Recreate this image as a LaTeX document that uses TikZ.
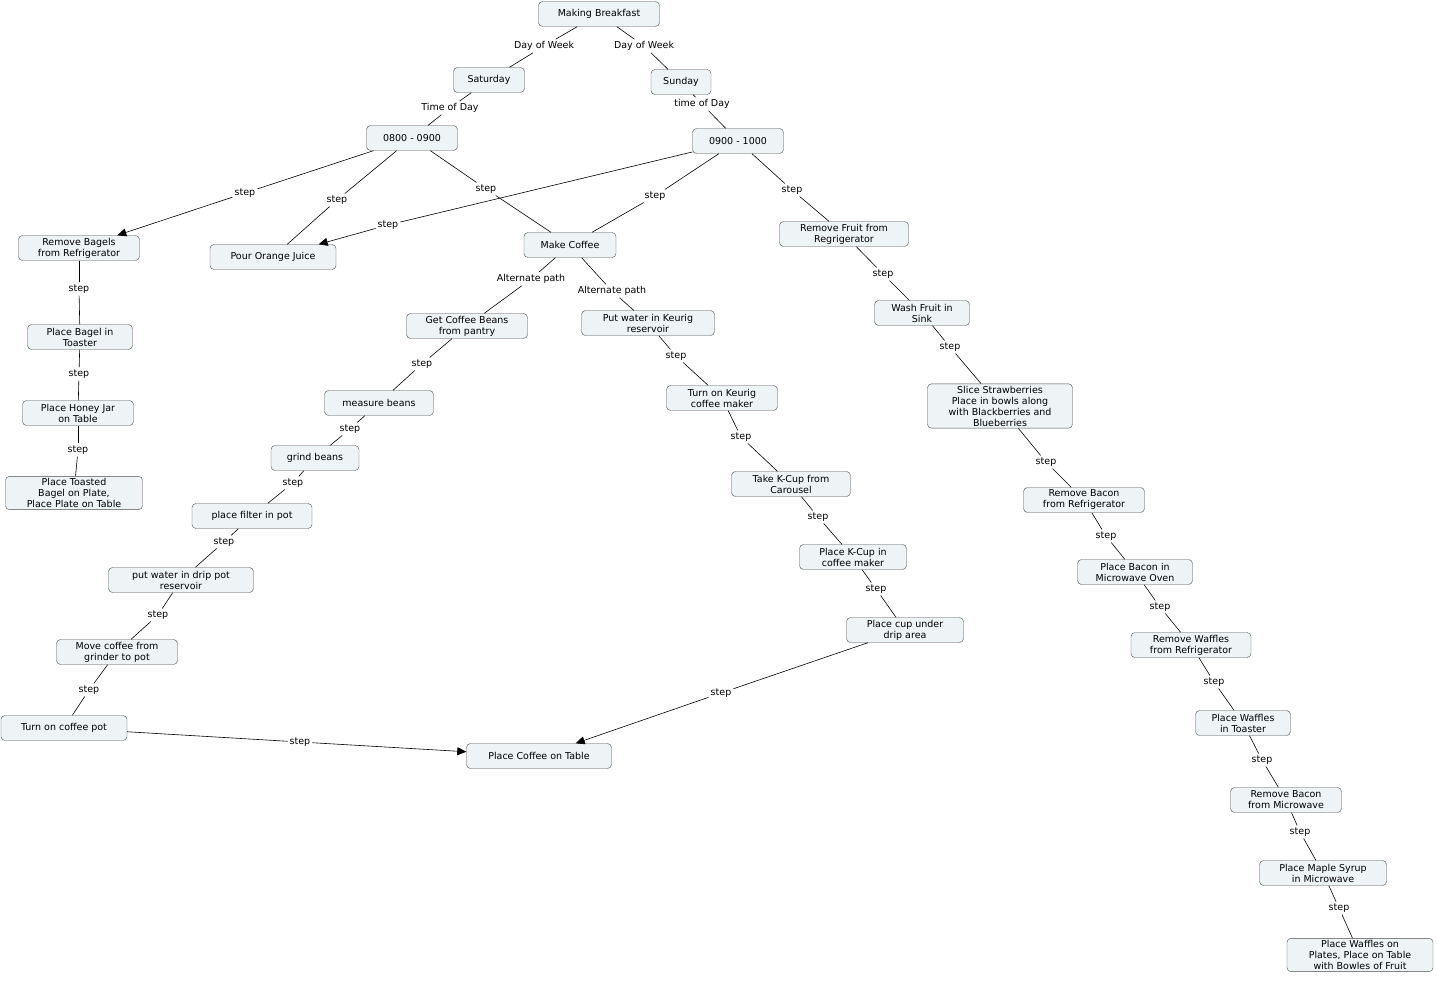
\documentclass[tikz,border=0pt]{standalone}
\usepackage{fontspec}
\setmainfont{DejaVu Sans}
\usetikzlibrary{arrows.meta}
\newcommand\mylink[3]{\draw[ln] (#1) -- (#2); \draw[ln] (#2) -- (#3);}
\newcommand\myarrow[3]{\draw[ln] (#1) -- (#2); \draw[ln,-{Triangle[length=9pt,width=8pt]}] (#2) -- (#3);}
\begin{document}
\begin{tikzpicture}[x=1pt,y=-1pt,
  box/.style={draw=black!70,fill={rgb,255:red,238;green,243;blue,245},rounded corners=4pt,align=center,font=\fontsize{9.5}{11}\selectfont,inner sep=2pt,minimum height=25pt},
  lab/.style={font=\fontsize{9.5}{11}\selectfont,inner sep=2pt},
  ln/.style={draw=black,line width=0.6pt}]
\useasboundingbox (0,0) rectangle (1437,984);
\node[box,minimum width=121] (MB) at (599,14) {Making Breakfast};
\node[box,minimum width=71] (Sat) at (489,80) {Saturday};
\node[box,minimum width=60] (Sun) at (681,82) {Sunday};
\node[box,minimum width=91] (T1) at (412,138) {0800 - 0900};
\node[box,minimum width=91] (T2) at (738,141) {0900 - 1000};
\node[box,minimum width=121] (RB) at (79,248) {Remove Bagels\\from Refrigerator};
\node[box,minimum width=126] (OJ) at (273,257) {Pour Orange Juice};
\node[box,minimum width=92] (MC) at (570,245) {Make Coffee};
\node[box,minimum width=129] (RF) at (844,234) {Remove Fruit from\\Regrigerator};
\node[box,minimum width=105] (PB) at (80,337) {Place Bagel in\\Toaster};
\node[box,minimum width=111] (HJ) at (78,413) {Place Honey Jar\\on Table};
\node[box,minimum width=137] (PT) at (74,493) {Place Toasted\\Bagel on Plate,\\Place Plate on Table};
\node[box,minimum width=121] (GB) at (467,326) {Get Coffee Beans\\from pantry};
\node[box,minimum width=133] (PW) at (648,323) {Put water in Keurig\\reservoir};
\node[box,minimum width=95] (WF) at (922,313) {Wash Fruit in\\Sink};
\node[box,minimum width=109] (MBn) at (379,403) {measure beans};
\node[box,minimum width=111] (TK) at (722,398) {Turn on Keurig\\coffee maker};
\node[box,minimum width=145] (SS) at (1000,406) {Slice Strawberries\\Place in bowls along\\with Blackberries and\\Blueberries};
\node[box,minimum width=88] (GBn) at (315,458) {grind beans};
\node[box,minimum width=119] (KC) at (791,484) {Take K-Cup from\\Carousel};
\node[box,minimum width=121] (RBa) at (1084,500) {Remove Bacon\\from Refrigerator};
\node[box,minimum width=120] (PF) at (252,516) {place filter in pot};
\node[box,minimum width=107] (PK) at (853,557) {Place K-Cup in\\coffee maker};
\node[box,minimum width=115] (PBM) at (1135,572) {Place Bacon in\\Microwave Oven};
\node[box,minimum width=145] (PWD) at (181,580) {put water in drip pot\\reservoir};
\node[box,minimum width=117] (PC) at (905,630) {Place cup under\\drip area};
\node[box,minimum width=120] (RW) at (1191,645) {Remove Waffles\\from Refrigerator};
\node[box,minimum width=121] (MV) at (117,652) {Move coffee from\\grinder to pot};
\node[box,minimum width=95] (PWT) at (1243,723) {Place Waffles\\in Toaster};
\node[box,minimum width=126] (TP) at (64,728) {Turn on coffee pot};
\node[box,minimum width=145] (PCT) at (539,756) {Place Coffee on Table};
\node[box,minimum width=111] (RBM) at (1286,800) {Remove Bacon\\from Microwave};
\node[box,minimum width=127] (MS) at (1323,873) {Place Maple Syrup\\in Microwave};
\node[box,minimum width=146] (PWP) at (1360,955) {Place Waffles on\\Plates, Place on Table\\with Bowles of Fruit};
% labels
\node[lab] (l1) at (544,46) {Day of Week};
\node[lab] (l2) at (644,46) {Day of Week};
\node[lab] (l3) at (450,108) {Time of Day};
\node[lab] (l4) at (702,104) {time of Day};
\node[lab] (l5) at (245,193) {step};
\node[lab] (l6) at (337,200) {step};
\node[lab] (l7) at (486,189) {step};
\node[lab] (l8) at (388,225) {step};
\node[lab] (l9) at (655,196) {step};
\node[lab] (l10) at (792,190) {step};
\node[lab] (l11) at (531,279) {Alternate path};
\node[lab] (l12) at (612,291) {Alternate path};
\node[lab] (s1) at (79,289) {step};
\node[lab] (s2) at (79,374) {step};
\node[lab] (s3) at (78,450) {step};
\node[lab] (c1) at (422,364) {step};
\node[lab] (c2) at (350,429) {step};
\node[lab] (c3) at (293,483) {step};
\node[lab] (c4) at (224,542) {step};
\node[lab] (c5) at (158,615) {step};
\node[lab] (c6) at (89,690) {step};
\node[lab] (c7) at (300,742) {step};
\node[lab] (k1) at (676,356) {step};
\node[lab] (k2) at (741,437) {step};
\node[lab] (k3) at (818,517) {step};
\node[lab] (k4) at (876,589) {step};
\node[lab] (k5) at (721,693) {step};
\node[lab] (f1) at (883,274) {step};
\node[lab] (f2) at (950,347) {step};
\node[lab] (f3) at (1046,462) {step};
\node[lab] (f4) at (1106,536) {step};
\node[lab] (f5) at (1160,607) {step};
\node[lab] (f6) at (1214,682) {step};
\node[lab] (f7) at (1262,760) {step};
\node[lab] (f8) at (1300,832) {step};
\node[lab] (f9) at (1339,908) {step};
% links
\mylink{MB}{l1}{Sat}
\mylink{MB}{l2}{Sun}
\mylink{Sat}{l3}{T1}
\mylink{Sun}{l4}{T2}
\myarrow{T1}{l5}{RB}
\mylink{T1}{l6}{OJ}
\mylink{T1}{l7}{MC}
\myarrow{T2}{l8}{OJ}
\mylink{T2}{l9}{MC}
\mylink{T2}{l10}{RF}
\mylink{MC}{l11}{GB}
\mylink{MC}{l12}{PW}
\mylink{RB}{s1}{PB}
\mylink{PB}{s2}{HJ}
\mylink{HJ}{s3}{PT}
\mylink{GB}{c1}{MBn}
\mylink{MBn}{c2}{GBn}
\mylink{GBn}{c3}{PF}
\mylink{PF}{c4}{PWD}
\mylink{PWD}{c5}{MV}
\mylink{MV}{c6}{TP}
\myarrow{TP}{c7}{PCT}
\mylink{PW}{k1}{TK}
\mylink{TK}{k2}{KC}
\mylink{KC}{k3}{PK}
\mylink{PK}{k4}{PC}
\myarrow{PC}{k5}{PCT}
\mylink{RF}{f1}{WF}
\mylink{WF}{f2}{SS}
\mylink{SS}{f3}{RBa}
\mylink{RBa}{f4}{PBM}
\mylink{PBM}{f5}{RW}
\mylink{RW}{f6}{PWT}
\mylink{PWT}{f7}{RBM}
\mylink{RBM}{f8}{MS}
\mylink{MS}{f9}{PWP}
\end{tikzpicture}
\end{document}
